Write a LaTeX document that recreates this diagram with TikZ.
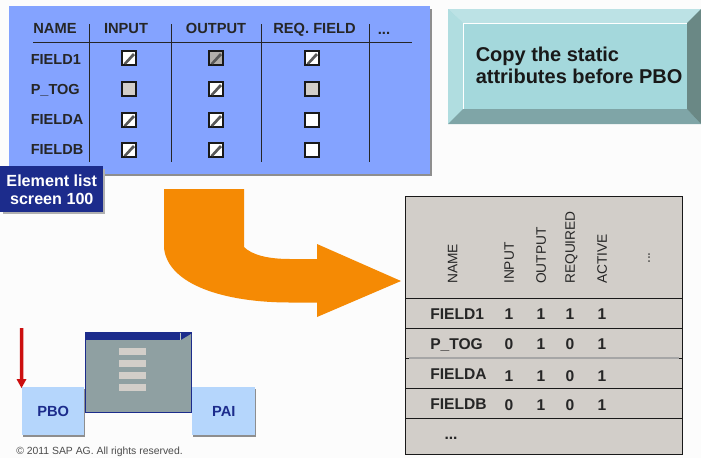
\documentclass[tikz,border=0pt]{standalone}
\usepackage{fontspec}
\setmainfont{Liberation Sans}
\definecolor{panelblue}{HTML}{84A3FF}
\definecolor{navy}{HTML}{1C2C8C}
\definecolor{orangeA}{HTML}{F58A04}
\definecolor{greyT}{HTML}{D2CEC9}
\definecolor{shadowG}{HTML}{8E8E8E}
\definecolor{tealM}{HTML}{A4D8DC}
\definecolor{tealL}{HTML}{BCE2E5}
\definecolor{tealD}{HTML}{7FA5A7}
\definecolor{tealDD}{HTML}{6A8885}
\definecolor{tealML}{HTML}{B0DDE0}
\definecolor{lightblue}{HTML}{B5D6FC}
\definecolor{slate}{HTML}{8FA0A2}
\definecolor{redA}{HTML}{CC0F0F}
\definecolor{pageW}{HTML}{FCFCFC}
\tikzset{
  capfix/.style={text height=0.72em,text depth=0pt,inner sep=0},
  hdr/.style={font=\fontsize{11}{12}\selectfont\bfseries,text=black!85,capfix},
  rowl/.style={font=\fontsize{10.9}{12}\selectfont\bfseries,text=black!85,capfix,yshift=-0.5pt},
  rowr/.style={font=\fontsize{11.7}{12}\selectfont\bfseries,text=black!85,capfix,yshift=-0.75pt},
  rot/.style={font=\fontsize{10.3}{12}\selectfont,text=black!85,capfix,rotate=90,anchor=west},
  tick/.style={line width=0.75pt,black!85},
  blk/.style={line width=0.6pt,black!90},
  ibox/.style={fill=lightblue,minimum width=46.5pt,minimum height=36pt,inner sep=0,text=navy,font=\fontsize{11}{12}\selectfont\bfseries,anchor=north west}
}
\newcommand{\chk}[3]{%
  \fill[#3,draw=black!90,line width=1.3pt] (#1-7,#2-7) rectangle (#1+7,#2+7);
}
\newcommand{\pen}[3]{%
  \fill[#3,draw=black!90,line width=1.3pt] (#1-7,#2-7) rectangle (#1+7,#2+7);
  \fill[black!65] (#1-5.5,#2+5.5) -- (#1+4,#2-5) -- (#1+6,#2-3) -- (#1-3,#2+6.5) -- cycle;
}
\begin{document}
\begin{tikzpicture}[x=0.75pt,y=-0.75pt]
\useasboundingbox (0,0) rectangle (701,458);
\fill[pageW] (0,0) rectangle (701,458);
% blue panel
\fill[shadowG] (12,9) rectangle (432,176);
\fill[panelblue] (9,6) rectangle (430,174);
\draw[tick] (33,42) -- (412,42);
\draw[tick] (89,24) -- (89,162);
\draw[tick] (171.5,24) -- (171.5,162);
\draw[tick] (261.5,24) -- (261.5,162);
\draw[tick] (369.5,24) -- (369.5,162);
\node[hdr] (h1) at (55,29) {NAME};
\node[hdr] (h2) at (126,29) {INPUT};
\node[hdr] (h3) at (216,29) {OUTPUT};
\node[hdr] (h4) at (314.5,29) {REQ. FIELD};
\node[hdr] (h5) at (384,30) {...};
\node[rowl,anchor=west] (r1) at (30.5,59) {FIELD1};
\node[rowl,anchor=west] (r2) at (30.5,89) {P\_TOG};
\node[rowl,anchor=west] (r3) at (30.5,119) {FIELDA};
\node[rowl,anchor=west] (r4) at (30.5,149) {FIELDB};
\pen{129}{58}{white}\pen{216}{58}{greyT!85!black}\pen{312}{58}{white}
\chk{129}{89}{greyT}\pen{216}{89}{white}\chk{312}{89}{greyT}
\pen{129}{120}{white}\pen{216}{120}{white}\chk{312}{120}{white}
\pen{129}{150}{white}\pen{216}{150}{white}\chk{312}{150}{white}
% element list label
\fill[shadowG!70] (3,169) rectangle (105,214);
\node[fill=navy,text=white,minimum width=77.25pt,minimum height=34.5pt,inner sep=0,align=center,font=\fontsize{12.1}{13.5}\selectfont\bfseries,anchor=north west] (elem) at (0,166) {Element list\\screen 100};
% teal button
\fill[tealM] (448,9) rectangle (701,124);
\fill[tealL] (448,9) -- (701,9) -- (687,23) -- (463,23) -- cycle;
\fill[tealML] (448,9) -- (463,23) -- (463,109) -- (448,124) -- cycle;
\fill[tealD] (448,124) -- (463,109) -- (687,109) -- (701,124) -- cycle;
\fill[tealDD] (701,9) -- (687,23) -- (687,109) -- (701,124) -- cycle;
\draw[white,line width=0.6pt] (463,109) -- (463,23) -- (687,23);
\node[anchor=west,inner sep=0,align=left,font=\fontsize{15}{16.5}\selectfont\bfseries,text=black!90] (copy) at (475.5,65) {Copy the static\\attributes before PBO};
% orange arrow
\fill[orangeA] (164,189) -- (244,189) -- (244,247)
  .. controls (252,255) and (268,259) .. (290,259) -- (317,259) -- (317,244)
  -- (401,281) -- (317,317) -- (317,302.5) -- (290,302.5)
  .. controls (225,302.5) and (168,285) .. (164,248) -- cycle;
% right table
\fill[greyT] (405.5,196.5) rectangle (682.5,454.5);
\draw[blk] (405.5,196.5) rectangle (682.5,454.5);
\draw[blk] (405.5,298) -- (682.5,298);
\draw[blk] (405.5,328) -- (682.5,328);
\draw[blk] (405.5,358) -- (682.5,358);
\draw[line width=1pt,black!35] (409,358) -- (679,358);
\draw[blk] (405.5,388) -- (682.5,388);
\draw[blk] (405.5,418) -- (682.5,418);
\node[rot] (c1) at (452.5,284) {NAME};
\node[rot] (c2) at (509,284) {INPUT};
\node[rot] (c3) at (541,284) {OUTPUT};
\node[rot] (c4) at (570,284) {REQUIRED};
\node[rot] (c5) at (602,284) {ACTIVE};
\node[rot] (c6) at (645,264) {...};
\node[rowr,anchor=west] (f1) at (430,314) {FIELD1};
\node[rowr,anchor=west] (f2) at (430,344) {P\_TOG};
\node[rowr,anchor=west] (f3) at (430,374) {FIELDA};
\node[rowr,anchor=west] (f4) at (430,404) {FIELDB};
\node[rowr] (d) at (451,434) {...};
\node[rowr] (v11) at (509,314) {1};\node[rowr] (v12) at (541,314) {1};\node[rowr] (v13) at (570,314) {1};\node[rowr] (v14) at (602,314) {1};
\node[rowr] (v21) at (509,344) {0};\node[rowr] (v22) at (541,344) {1};\node[rowr] (v23) at (570,344) {0};\node[rowr] (v24) at (602,344) {1};
\node[rowr] (v31) at (509,376) {1};\node[rowr] (v32) at (541,376) {1};\node[rowr] (v33) at (570,376) {0};\node[rowr] (v34) at (602,376) {1};
\node[rowr] (v41) at (509,405) {0};\node[rowr] (v42) at (541,405) {1};\node[rowr] (v43) at (570,405) {0};\node[rowr] (v44) at (602,405) {1};
% PBO / PAI
\fill[shadowG] (23,389) rectangle (85,437);
\node[ibox,minimum width=46.5pt] (pbo) at (22,387) {PBO};
\fill[shadowG] (193,389) rectangle (256,437);
\node[ibox,minimum width=47.25pt] (pai) at (192,387) {PAI};
% screen
\fill[slate,draw=navy,line width=0.75pt] (85.5,332) rectangle (191.5,412);
\fill[navy] (85.5,332) rectangle (191.5,340);
\draw[slate!60!white,line width=0.5pt] (180.5,332.5) -- (180.5,340);
\fill[slate] (181,340) -- (191,334) -- (191,340) -- cycle;
\fill[greyT] (119,348) rectangle (146,355);
\fill[greyT] (119,360) rectangle (146,367);
\fill[greyT] (119,372) rectangle (146,379);
\fill[greyT] (119,384) rectangle (146,391);
% red arrow
\fill[redA] (19.75,328) -- (23.25,328) -- (23.25,379) -- (26.5,379) -- (21.5,388) -- (16.5,379) -- (19.75,379) -- cycle;
\node[anchor=west,inner sep=0,font=\fontsize{7.8}{9}\selectfont,text=black!70] (copyr) at (16,452) {© 2011 SAP AG. All rights reserved.};
\end{tikzpicture}
\end{document}
